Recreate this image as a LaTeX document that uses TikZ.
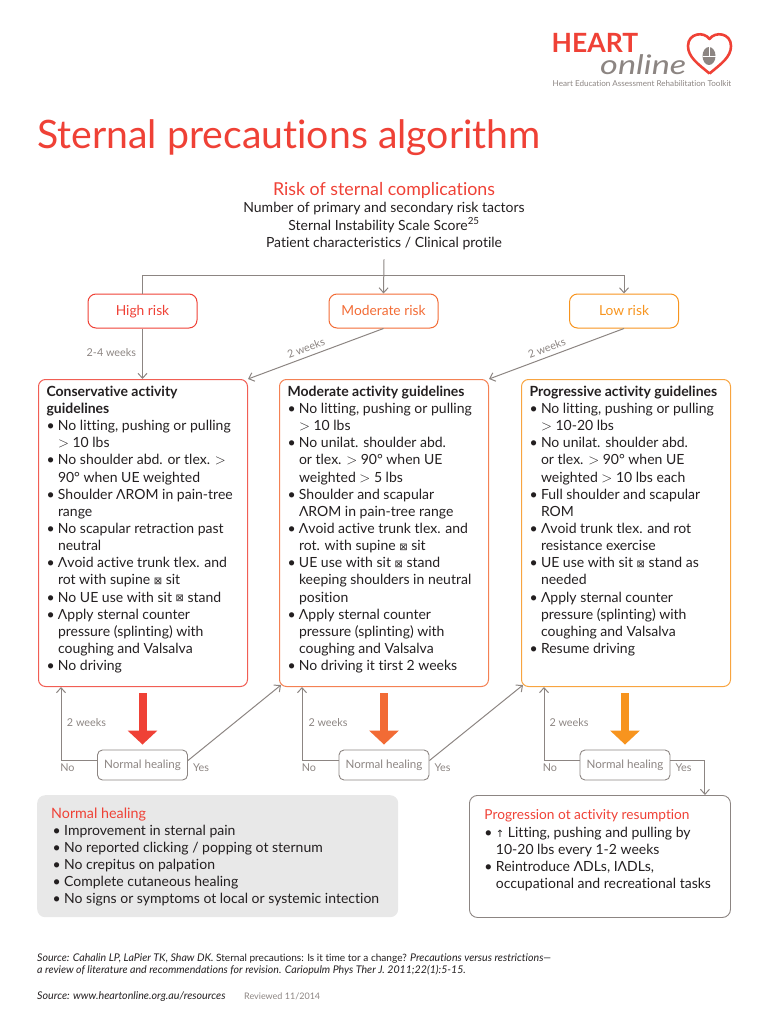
\documentclass[tikz,border=0pt]{standalone}
\usepackage{fontspec}
\setmainfont[Ligatures=NoCommon]{Lato}
\newfontfamily\symfont{DejaVu Sans}
\usetikzlibrary{positioning,arrows.meta,calc}

\definecolor{hred}{HTML}{EF4136}
\definecolor{hmod}{HTML}{F26B35}
\definecolor{hlow}{HTML}{F7941E}
\definecolor{hgrey}{HTML}{8C8582}
\definecolor{hink}{HTML}{231F20}

% bullet and continuation line
\newcommand{\bul}{\makebox[11.5pt][l]{\textbullet}}
\newcommand{\nbul}{\hspace*{1.5pt}\bul}
\newcommand{\cnt}{\hspace*{11.5pt}}
\newcommand{\xb}{{\symfont\fontsize{10}{10}\selectfont\raisebox{.2pt}{⊠}}}

\begin{document}
\begin{tikzpicture}[
  x=1pt,y=-1pt,
  >={Straight Barb[length=5pt,width=9pt]},
  every node/.style={text=hink},
  body/.style={font=\fontsize{14}{17.14}\selectfont},
  riskbox/.style={draw,rounded corners=8pt,line width=1pt,minimum width=109pt,minimum height=34pt,inner sep=0pt,text height=10pt,text depth=.5pt,font=\fontsize{13.8}{16}\selectfont},
  guide/.style={draw,rounded corners=7pt,line width=1pt,inner xsep=8pt,inner ysep=6.5pt,body},
  healbox/.style={draw=hgrey,rounded corners=5pt,line width=.9pt,minimum width=90pt,minimum height=30pt,inner sep=0pt,text=hgrey,font=\fontsize{11.6}{13}\selectfont},
  lbl/.style={text=hgrey,inner sep=0pt,font=\fontsize{10.8}{13}\selectfont},
  dep/.style={->,line width=1pt,draw=hgrey},
  bigdown/.style={line width=8pt,-{Triangle[length=14pt,width=29pt]},shorten <=6pt,shorten >=5pt},
]
\useasboundingbox (0,0) rectangle (768,1024);

% logo
\node[inner sep=0pt,anchor=base west,text=hred,font=\fontsize{26.5}{26}\selectfont\bfseries] (heart) at (551.5,53) {HEART};
\node[inner sep=0pt,anchor=base west,text=hgrey,font=\fontsize{27}{27}\selectfont\itshape] (online) at (600,74.5) {\scalebox{1.27}[1]{online}};
\node[inner sep=0pt,anchor=base west,text=hgrey,font=\fontsize{8.1}{9}\selectfont] (toolkit) at (552.5,87) {Heart Education Assessment Rehabilitation Toolkit};
\draw[hred,line width=2.6pt,line join=round] (709.5,73.5) .. controls (698,64) and (688,57) .. (688,46)
  .. controls (688,33) and (704,31) .. (709.5,39) .. controls (715,31) and (731,33) .. (731,46)
  .. controls (731,57) and (721,64) .. (709.5,73.5);
\fill[hgrey] (709,56) ellipse (6.5pt and 9pt);
\draw[white,line width=.9pt] (702.5,56) -- (715.5,56) (709,47) -- (709,56);

% title
\node[inner sep=0pt,anchor=base west,text=hred,font=\fontsize{39.2}{40}\selectfont] (title) at (37,149) {Sternal precautions algorithm};

% risk assessment
\node[inner sep=0pt,align=center,body,text depth=12pt] (risk) at (384,221)
  {{\fontsize{17.8}{17.5}\selectfont\color{hred}Risk of sternal complications}\\
   Number of primary and secondary risk tactors\\
   Sternal Instability Scale Score\textsuperscript{25}\\
   Patient characteristics / Clinical protile};

% risk levels
\node[riskbox,draw=hred,text=hred] (highrisk) at (142.5,311) {High risk};
\node[riskbox,draw=hmod,text=hmod,right=131pt of highrisk] (modrisk) {Moderate risk};
\node[riskbox,draw=hlow,text=hlow,right=130.5pt of modrisk] (lowrisk) {Low risk};

% guidelines
\node[guide,draw=hred!85!white,anchor=north west] (consbox) at (38,379) {\parbox[t][294pt][t]{193pt}{%
\textbf{Conservative activity}\\
\textbf{guidelines}\\
\bul No litting, pushing or pulling\\
\cnt $>$ 10 lbs\\
\bul No shoulder abd. or tlex. $>$\\
\cnt 90° when UE weighted\\
\bul Shoulder ΛROM in pain-tree\\
\cnt range\\
\bul No scapular retraction past\\
\cnt neutral\\
\bul Λvoid active trunk tlex. and\\
\cnt rot with supine \xb{} sit\\
\bul No UE use with sit \xb{} stand\\
\bul Λpply sternal counter\\
\cnt pressure (splinting) with\\
\cnt coughing and Valsalva\\
\bul No driving}};
\node[guide,draw=hmod!85!white,anchor=north west] (modbox) at (279,379) {\parbox[t][294pt][t]{193pt}{%
\textbf{Moderate activity guidelines}\\
\bul No litting, pushing or pulling\\
\cnt $>$ 10 lbs\\
\bul No unilat. shoulder abd.\\
\cnt or tlex. $>$ 90° when UE\\
\cnt weighted $>$ 5 lbs\\
\bul Shoulder and scapular\\
\cnt ΛROM in pain-tree range\\
\bul Λvoid active trunk tlex. and\\
\cnt rot. with supine \xb{} sit\\
\bul UE use with sit \xb{} stand\\
\cnt keeping shoulders in neutral\\
\cnt position\\
\bul Λpply sternal counter\\
\cnt pressure (splinting) with\\
\cnt coughing and Valsalva\\
\bul No driving it tirst 2 weeks}};
\node[guide,draw=hlow!85!white,anchor=north west] (progbox) at (521,379) {\parbox[t][294pt][t]{193pt}{%
\textbf{Progressive activity guidelines}\\
\bul No litting, pushing or pulling\\
\cnt $>$ 10-20 lbs\\
\bul No unilat. shoulder abd.\\
\cnt or tlex. $>$ 90° when UE\\
\cnt weighted $>$ 10 lbs each\\
\bul Full shoulder and scapular\\
\cnt ROM\\
\bul Λvoid trunk tlex. and rot\\
\cnt resistance exercise\\
\bul UE use with sit \xb{} stand as\\
\cnt needed\\
\bul Λpply sternal counter\\
\cnt pressure (splinting) with\\
\cnt coughing and Valsalva\\
\bul Resume driving}};

% normal healing decisions
\node[healbox] (healA) at (142.5,765) {Normal healing};
\node[healbox] (healB) at (384,765) {Normal healing};
\node[healbox] (healC) at (625,765) {Normal healing};

% bottom panels
\node[fill=black!9,rounded corners=8pt,anchor=north west,inner xsep=14pt,inner ysep=12.5pt,body] (normal) at (37,795) {\parbox[t][97pt][t]{333pt}{%
{\fontsize{14.3}{17}\selectfont\color{hred}Normal healing}\\
\nbul Improvement in sternal pain\\
\nbul No reported clicking / popping ot sternum\\
\nbul No crepitus on palpation\\
\nbul Complete cutaneous healing\\
\nbul No signs or symptoms ot local or systemic intection}};
\node[draw=hgrey,line width=.9pt,rounded corners=8pt,anchor=north west,inner xsep=15pt,inner ysep=14.5pt,body] (resume) at (469,795) {\parbox[t][93pt][t]{231pt}{%
{\fontsize{13.7}{17}\selectfont\color{hred}Progression ot activity resumption}\\
\bul {\symfont\fontsize{10}{10}\selectfont ↑} Litting, pushing and pulling by\\
\cnt 10-20 lbs every 1-2 weeks\\
\bul Reintroduce ΛDLs, IΛDLs,\\
\cnt occupational and recreational tasks}};

% connectors from the top
\coordinate (bus) at ($(risk.south)+(0,-16pt)$);
\draw[dep] (risk.south) -- (modrisk.north);
\draw[dep] (highrisk.north) |- (bus) -| (lowrisk.north);
\draw[dep] (highrisk) -- node[lbl,left=6pt,pos=.47] (wkA) {2-4 weeks} (consbox.north -| highrisk);
\draw[dep] (modrisk.south) -- node[lbl,sloped,above=4pt,pos=.55] (wkB) {2 weeks} (consbox.north east);
\draw[dep] (lowrisk.south) -- node[lbl,sloped,above=4pt,pos=.55] (wkC) {2 weeks} (modbox.north east);

% big arrows
\draw[bigdown,draw=hred] (consbox.south -| healA) -- (healA.north);
\draw[bigdown,draw=hmod] (modbox.south -| healB) -- (healB.north);
\draw[bigdown,draw=hlow] (progbox.south -| healC) -- (healC.north);

% feedback loops
\draw[dep] ([yshift=4.5pt]healA.west) -| ([xshift=23pt]consbox.south west);
\draw[dep] ([yshift=4.5pt]healB.west) -| ([xshift=23pt]modbox.south west);
\draw[dep] ([yshift=4.5pt]healC.west) -| ([xshift=23pt]progbox.south west);
\draw[dep] ([yshift=4.5pt]healA.east) -- ([shift={(2pt,2pt)}]modbox.south west);
\draw[dep] ([yshift=4.5pt]healB.east) -- ([shift={(2pt,2pt)}]progbox.south west);
\draw[dep] ([yshift=4.5pt]healC.east) -| ([xshift=105pt]resume.north);

% labels round the decisions
\foreach \h in {healA,healB,healC} {
  \node[lbl] (\h no) at ($(\h)+(-75,3)$) {No};
  \node[lbl] (\h yes) at ($(\h)+(58.5,3)$) {Yes};
  \node[lbl] (\h wk) at ($(\h)+(-56,-42)$) {2 weeks};
}

% sources
\node[inner sep=0pt,anchor=north west,align=left,font=\fontsize{10.6}{12.2}\selectfont\itshape] (src) at (37,953)
  {Source: Cahalin LP, LaPier TK, Shaw DK. {\fontsize{10.1}{12.2}\selectfont\upshape Sternal precautions: Is it time tor a change?} Precautions versus restrictions—\\
   a review of literature and recommendations for revision. Cariopulm Phys Ther J. 2011;22(1):5-15.};
\node[inner sep=0pt,anchor=base west,font=\fontsize{10.7}{12}\selectfont\itshape] (web) at (37,999) {Source: www.heartonline.org.au/resources};
\node[inner sep=0pt,anchor=base west,text=hgrey,font=\fontsize{9}{11}\selectfont] (rev) at (244,999) {Reviewed 11/2014};
\end{tikzpicture}
\end{document}
